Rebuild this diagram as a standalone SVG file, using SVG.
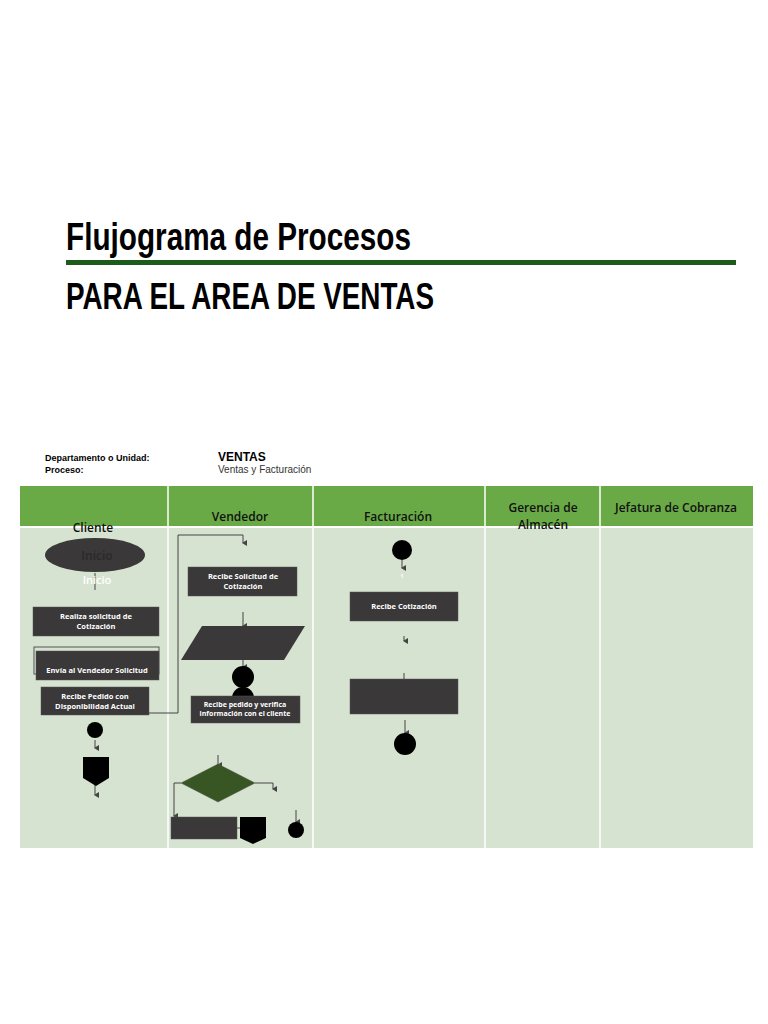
<svg xmlns="http://www.w3.org/2000/svg" width="768" height="1024" viewBox="0 0 768 1024">
<defs>
<style>
.t{font-family:"Liberation Sans",Arial,sans-serif}
.h{font-family:"Open Sans","Liberation Sans",sans-serif;font-size:12px;font-weight:600;fill:#111;text-anchor:middle}
.box{fill:#3a3839;stroke:#555;stroke-width:.5}
.bt{font-family:"Open Sans","Liberation Sans",sans-serif;font-size:7.5px;font-weight:700;fill:#fff;text-anchor:middle}
.c{stroke:#444;stroke-width:1;fill:none}
</style>
<marker id="a" markerWidth="6" markerHeight="6" refX="3" refY="5" orient="auto-start-reverse" viewBox="0 0 6 6"><path d="M0,1 L6,1 L3,6z" fill="#444"/></marker>
</defs>
<rect width="768" height="1024" fill="#fff"/>
<text class="t" x="66" y="250" font-size="38" font-weight="700" textLength="345" lengthAdjust="spacingAndGlyphs">Flujograma de Procesos</text>
<rect x="66" y="260" width="670" height="5" fill="#1d5b1a"/>
<text class="t" x="66" y="309" font-size="36" font-weight="700" textLength="368" lengthAdjust="spacingAndGlyphs">PARA EL AREA DE VENTAS</text>
<text class="t" x="45" y="461" font-size="9" font-weight="700">Departamento o Unidad:</text>
<text class="t" x="45" y="473" font-size="9" font-weight="700">Proceso:</text>
<text class="t" x="218" y="461" font-size="12" font-weight="700">VENTAS</text>
<text class="t" x="218" y="473" font-size="10" fill="#333">Ventas y Facturación</text>
<g id="lanes">
<rect x="20" y="486" width="733" height="40" fill="#6aaa46"/>
<rect x="20" y="528" width="733" height="320" fill="#d7e3d1"/>
<g stroke="#fff" stroke-width="1.5"><line x1="168" y1="486" x2="168" y2="848"/><line x1="313" y1="486" x2="313" y2="848"/><line x1="485" y1="486" x2="485" y2="848"/><line x1="600" y1="486" x2="600" y2="848"/><line x1="20" y1="527" x2="753" y2="527"/></g>
<text class="h" x="93" y="532">Cliente</text>
<text class="h" x="240" y="521">Vendedor</text>
<text class="h" x="398" y="521">Facturación</text>
<text class="h" x="543" y="512">Gerencia de</text>
<text class="h" x="543" y="529">Almacén</text>
<text class="h" x="676" y="512">Jefatura de Cobranza</text>
</g>
<g id="connectors">
<line class="c" x1="95" y1="573" x2="95" y2="590"/>
<polyline class="c" points="149,713 178,713 178,535 243,535 243,543" marker-end="url(#a)"/>
<line class="c" x1="95" y1="740" x2="95" y2="748" marker-end="url(#a)"/>
<line class="c" x1="95" y1="782" x2="95" y2="795" marker-end="url(#a)"/>
<line class="c" x1="243" y1="612" x2="243" y2="626" marker-end="url(#a)"/>
<line class="c" x1="243" y1="660" x2="243" y2="667" marker-end="url(#a)"/>
<line class="c" x1="218" y1="755" x2="218" y2="765" marker-end="url(#a)"/>
<polyline class="c" points="255,783 273,783 273,789" marker-end="url(#a)"/>
<polyline class="c" points="181,783 174,783 174,816" marker-end="url(#a)"/>
<line class="c" x1="237" y1="828" x2="240" y2="828"/>
<line class="c" x1="296" y1="810" x2="296" y2="822" marker-end="url(#a)"/>
<line class="c" x1="402" y1="560" x2="402" y2="568" marker-end="url(#a)"/>
<line class="c" x1="404" y1="636" x2="404" y2="641" marker-end="url(#a)"/>
<line class="c" x1="404" y1="673" x2="404" y2="679"/>
<line class="c" x1="405" y1="720" x2="405" y2="733" marker-end="url(#a)"/>
</g>
<g id="inicio"><ellipse cx="95" cy="555" rx="50" ry="17" fill="#3a3839"/><text class="h" x="97" y="560" fill="#2a2a2a" font-weight="400" style="fill:#2a2a2a">Inicio</text><text class="h" x="97" y="584" style="fill:#fff;font-size:11px">Inicio</text></g>
<g id="n1"><rect class="box" x="33" y="607" width="126" height="29"/><text class="bt" x="96" y="619">Realiza solicitud de</text><text class="bt" x="96" y="629">Cotización</text></g>
<g id="n2"><rect x="34" y="647" width="125" height="27" fill="none" stroke="#555"/><rect class="box" x="36" y="651" width="123" height="29"/><text class="bt" x="97" y="673">Envía al Vendedor Solicitud</text></g>
<g id="n3"><rect class="box" x="41" y="687" width="108" height="28"/><text class="bt" x="95" y="699">Recibe Pedido con</text><text class="bt" x="95" y="709">Disponibilidad Actual</text></g>
<g id="c1"><circle cx="95" cy="730" r="8" fill="#000"/></g>
<g id="o1"><path d="M83,757 H109 V778 L96,786 L83,778z" fill="#000"/></g>
<g id="n4"><rect class="box" x="188" y="567" width="109" height="29"/><text class="bt" x="243" y="579">Recibe Solicitud de</text><text class="bt" x="243" y="589">Cotización</text></g>
<g id="p1"><polygon points="202,626 305,626 284,660 181,660" fill="#3a3839"/></g>
<g id="c2"><circle cx="243" cy="698" r="11" fill="#000"/><circle cx="243" cy="677" r="11" fill="#000"/></g>
<g id="n5"><rect class="box" x="191" y="696" width="109" height="27"/><text class="bt" x="245" y="707" style="font-size:7px">Recibe pedido y verifica</text><text class="bt" x="245" y="716" style="font-size:7px">información con el cliente</text></g>
<g id="d1"><polygon points="218,764 255,783 218,802 181,783" fill="#375623" stroke="#555" stroke-width=".5"/></g>
<g id="n6"><rect class="box" x="171" y="817" width="66" height="22"/></g>
<g id="o2"><path d="M240,817 H266 V838 L253,844 L240,838z" fill="#000"/></g>
<g id="c3"><circle cx="296" cy="830" r="8" fill="#000"/></g>
<g id="c4"><circle cx="402" cy="550" r="10" fill="#000"/><text class="bt" x="402" y="578" style="font-size:5px">1</text></g>
<g id="n7"><rect class="box" x="350" y="592" width="108" height="29"/><text class="bt" x="404" y="609">Recibe Cotización</text></g>
<g id="n8"><rect class="box" x="350" y="679" width="108" height="35"/></g>
<g id="c5"><circle cx="405" cy="744" r="11" fill="#000"/></g>
</svg>
